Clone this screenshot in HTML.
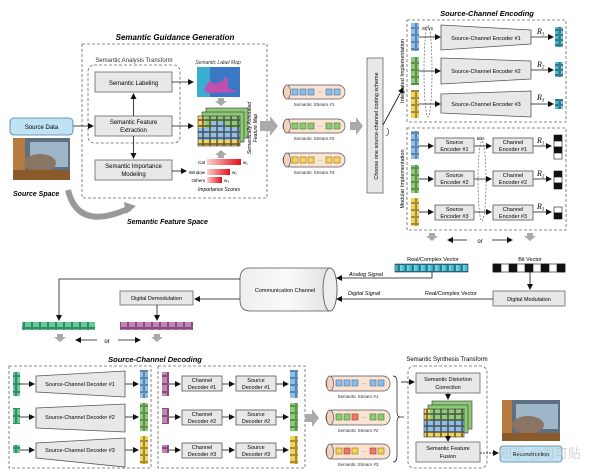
<!DOCTYPE html>
<html><head><meta charset="utf-8"><style>
html,body{margin:0;padding:0;background:#fff;}
svg{display:block;font-family:"Liberation Sans",Arial,sans-serif;}
</style></head><body>
<svg width="600" height="475" viewBox="0 0 600 475" xmlns="http://www.w3.org/2000/svg">
<defs>
<marker id="ar" markerWidth="6" markerHeight="6" refX="5" refY="3" orient="auto" markerUnits="userSpaceOnUse"><path d="M0,0 L6,3 L0,6 z" fill="#111"/></marker>
<linearGradient id="rg" x1="0" x2="1"><stop offset="0" stop-color="#fbd0d0"/><stop offset="1" stop-color="#e2101a"/></linearGradient>
<linearGradient id="cg" x1="0" x2="1"><stop offset="0" stop-color="#eee"/><stop offset="0.5" stop-color="#fafafa"/><stop offset="1" stop-color="#ddd"/></linearGradient>
<linearGradient id="cy" x1="0" x2="1"><stop offset="0" stop-color="#7fe0f0"/><stop offset="1" stop-color="#1aa9c9"/></linearGradient>
<pattern id="pb" width="8" height="7" patternUnits="userSpaceOnUse"><rect x="0.5" y="0.5" width="7" height="6" fill="#8fbfe8" stroke="#3b6ea5" stroke-width="0.8"/></pattern>
<pattern id="pg" width="8" height="7" patternUnits="userSpaceOnUse"><rect x="0.5" y="0.5" width="7" height="6" fill="#8fca78" stroke="#3f7a2e" stroke-width="0.8"/></pattern>
<pattern id="py" width="8" height="7" patternUnits="userSpaceOnUse"><rect x="0.5" y="0.5" width="7" height="6" fill="#f5d35a" stroke="#8a7420" stroke-width="0.8"/></pattern>
<pattern id="pc" width="8" height="5" patternUnits="userSpaceOnUse"><rect x="0.5" y="0.5" width="7" height="4" fill="url(#cy)" stroke="#145" stroke-width="0.7"/></pattern>
<pattern id="pt" width="8" height="8" patternUnits="userSpaceOnUse"><rect x="0.5" y="0.5" width="7" height="7" fill="#5fcf9a" stroke="#1d6b4a" stroke-width="0.8"/></pattern>
<pattern id="pp" width="8" height="8" patternUnits="userSpaceOnUse"><rect x="0.5" y="0.5" width="7" height="7" fill="#c383b5" stroke="#6b2f60" stroke-width="0.8"/></pattern>
<pattern id="pcv" width="7" height="8" patternUnits="userSpaceOnUse"><rect x="0.5" y="0.5" width="6" height="7" fill="url(#cy)" stroke="#145" stroke-width="0.7"/></pattern>
<pattern id="pcube" width="7" height="6" patternUnits="userSpaceOnUse"><rect x="0.4" y="0.4" width="6.2" height="5.2" fill="none" stroke="#333" stroke-width="0.6"/></pattern>
</defs>

<!-- Semantic Guidance Generation -->
<text x="175" y="40" font-size="8" font-weight="bold" font-style="italic" text-anchor="middle">Semantic Guidance Generation</text>
<rect x="82" y="44" width="185" height="154" fill="none" stroke="#666" stroke-dasharray="3,2" stroke-width="0.8"/>
<text x="134" y="62" font-size="6" text-anchor="middle" fill="#333">Semantic Analysis Transform</text>
<rect x="88" y="65" width="92" height="78" rx="6" fill="none" stroke="#666" stroke-dasharray="3,2" stroke-width="0.8"/>
<rect x="95" y="72" width="77" height="20" fill="#e8e8e8" stroke="#666" stroke-width="0.8"/>
<text x="133.5" y="85" font-size="6" text-anchor="middle">Semantic Labeling</text>
<rect x="95" y="116" width="77" height="20" fill="#e8e8e8" stroke="#666" stroke-width="0.8"/>
<text x="133.5" y="124" font-size="6" text-anchor="middle">Semantic Feature</text>
<text x="133.5" y="132" font-size="6" text-anchor="middle">Extraction</text>
<rect x="95" y="160" width="77" height="20" fill="#e8e8e8" stroke="#666" stroke-width="0.8"/>
<text x="133.5" y="168" font-size="6" text-anchor="middle">Semantic Importance</text>
<text x="133.5" y="176" font-size="6" text-anchor="middle">Modeling</text>
<line x1="133.5" y1="116" x2="133.5" y2="94" stroke="#111" stroke-width="0.8" marker-end="url(#ar)"/>
<line x1="133.5" y1="136" x2="133.5" y2="158" stroke="#111" stroke-width="0.8" marker-end="url(#ar)"/>
<line x1="172" y1="82" x2="193" y2="82" stroke="#111" stroke-width="0.8" marker-end="url(#ar)"/>
<line x1="172" y1="126" x2="193" y2="126" stroke="#111" stroke-width="0.8" marker-end="url(#ar)"/>
<line x1="172" y1="171" x2="186" y2="171" stroke="#111" stroke-width="0.8" marker-end="url(#ar)"/>

<rect x="10" y="118" width="63" height="17" rx="4" fill="#bfe3f5" stroke="#4a7fa8" stroke-width="0.8"/>
<text x="41.5" y="129" font-size="6" text-anchor="middle">Source Data</text>
<line x1="73" y1="126" x2="93" y2="126" stroke="#111" stroke-width="0.8" marker-end="url(#ar)"/>
<rect x="13" y="138" width="57" height="42" fill="#5d6f80"/>
<rect x="13" y="138" width="12" height="42" fill="#b77a3f"/>
<rect x="30" y="142" width="38" height="25" fill="#9fb6c8"/>
<ellipse cx="40" cy="163" rx="16" ry="9" fill="#8a7565"/>
<rect x="13" y="170" width="57" height="10" fill="#8b5a2b"/>
<text x="13" y="196" font-size="7" font-weight="bold" font-style="italic">Source Space</text>
<path d="M68,190 Q78,232 130,208" fill="none" stroke="#999" stroke-width="6"/>
<path d="M124,202 L136,206 L126,214 z" fill="#999"/>
<text x="127" y="224" font-size="7" font-weight="bold" font-style="italic">Semantic Feature Space</text>

<!-- label map -->
<text x="218" y="64" font-size="5" font-style="italic" text-anchor="middle" fill="#333">Semantic Label Map</text>
<rect x="197" y="67" width="43" height="30" fill="#3a78c6"/>
<rect x="197" y="67" width="13" height="30" fill="#3aaed0"/>
<path d="M204,90 L210,80 L214,84 L223,81 L225,76 L228,80 L228,88 L238,92 L208,93 z" fill="#c050b0"/>
<path d="M218,98 l6,0 l0,3 l3,0 l-6,5 l-6,-5 l3,0 z" fill="#aaa"/>
<!-- cube -->
<g>
<rect x="206" y="108" width="42" height="30" fill="#8fca78" stroke="#333" stroke-width="0.6"/>
<rect x="202" y="112" width="42" height="30" fill="#8fca78" stroke="#333" stroke-width="0.6"/>
<rect x="198" y="116" width="42" height="30" fill="#8fca78"/>
<rect x="198" y="128" width="42" height="12" fill="#8fbfe8"/>
<rect x="198" y="140" width="42" height="6" fill="#f5d35a"/>
<rect x="198" y="116" width="7" height="12" fill="#f5d35a"/>
<rect x="212" y="122" width="14" height="6" fill="#8fbfe8"/>
<rect x="198" y="116" width="42" height="30" fill="url(#pcube)" stroke="#333" stroke-width="0.6"/>
</g>
<path d="M218,158 l6,0 l0,-3 l3,0 l-6,-5 l-6,5 l3,0 z" fill="#aaa"/>
<text x="205" y="164" font-size="4.5" text-anchor="end">Cat</text>
<rect x="207" y="159" width="34" height="6" fill="url(#rg)"/>
<text x="243" y="164" font-size="4.5">w₁</text>
<text x="205" y="174" font-size="4.5" text-anchor="end">Window</text>
<rect x="207" y="169" width="23" height="6" fill="url(#rg)"/>
<text x="232" y="174" font-size="4.5">w₂</text>
<text x="205" y="182" font-size="4.5" text-anchor="end">Others</text>
<rect x="207" y="177" width="15" height="6" fill="url(#rg)"/>
<text x="224" y="182" font-size="4.5">w₃</text>
<text x="219" y="191" font-size="5" font-style="italic" text-anchor="middle">Importance Scores</text>
<text transform="translate(251,128) rotate(-90)" font-size="5" font-style="italic" text-anchor="middle">Semantically Annotated</text>
<text transform="translate(257,128) rotate(-90)" font-size="5" font-style="italic" text-anchor="middle">Feature Map</text>
<path d="M260,121 l10,0 l0,-5 l8,10 l-8,10 l0,-5 l-10,0 z" fill="#aaa"/>

<!-- streams top -->
<g font-size="4.5" text-anchor="middle" fill="#333">
<g transform="translate(0,0)">
<rect x="283" y="85" width="62" height="14" rx="7" fill="#fbe3d4" stroke="#555" stroke-width="0.7"/><ellipse cx="287" cy="92" rx="3.5" ry="7" fill="#f3d3c0" stroke="#555" stroke-width="0.7"/>
<rect x="292" y="89" width="6" height="6" fill="#8fbfe8" stroke="#3b6ea5" stroke-width="0.6"/><rect x="300" y="89" width="6" height="6" fill="#8fbfe8" stroke="#3b6ea5" stroke-width="0.6"/><rect x="308" y="89" width="6" height="6" fill="#8fbfe8" stroke="#3b6ea5" stroke-width="0.6"/><rect x="326" y="89" width="6" height="6" fill="#8fbfe8" stroke="#3b6ea5" stroke-width="0.6"/><rect x="334" y="89" width="6" height="6" fill="#8fbfe8" stroke="#3b6ea5" stroke-width="0.6"/>
<text x="320" y="94">···</text><text x="314" y="106">Semantic Stream #1</text></g>
<rect x="283" y="119" width="62" height="14" rx="7" fill="#fbe3d4" stroke="#555" stroke-width="0.7"/><ellipse cx="287" cy="126" rx="3.5" ry="7" fill="#f3d3c0" stroke="#555" stroke-width="0.7"/>
<rect x="292" y="123" width="6" height="6" fill="#8fca78" stroke="#3f7a2e" stroke-width="0.6"/><rect x="300" y="123" width="6" height="6" fill="#8fca78" stroke="#3f7a2e" stroke-width="0.6"/><rect x="308" y="123" width="6" height="6" fill="#8fca78" stroke="#3f7a2e" stroke-width="0.6"/><rect x="326" y="123" width="6" height="6" fill="#8fca78" stroke="#3f7a2e" stroke-width="0.6"/><rect x="334" y="123" width="6" height="6" fill="#8fca78" stroke="#3f7a2e" stroke-width="0.6"/>
<text x="320" y="128">···</text><text x="314" y="140">Semantic Stream #2</text>
<rect x="283" y="153" width="62" height="14" rx="7" fill="#fbe3d4" stroke="#555" stroke-width="0.7"/><ellipse cx="287" cy="160" rx="3.5" ry="7" fill="#f3d3c0" stroke="#555" stroke-width="0.7"/>
<rect x="292" y="157" width="6" height="6" fill="#f5d35a" stroke="#8a7420" stroke-width="0.6"/><rect x="300" y="157" width="6" height="6" fill="#f5d35a" stroke="#8a7420" stroke-width="0.6"/><rect x="308" y="157" width="6" height="6" fill="#f5d35a" stroke="#8a7420" stroke-width="0.6"/><rect x="326" y="157" width="6" height="6" fill="#f5d35a" stroke="#8a7420" stroke-width="0.6"/><rect x="334" y="157" width="6" height="6" fill="#f5d35a" stroke="#8a7420" stroke-width="0.6"/>
<text x="320" y="162">···</text><text x="314" y="174">Semantic Stream #3</text>
</g>
<path d="M350,122 l6,0 l0,-5 l7,9 l-7,9 l0,-5 l-6,0 z" fill="#aaa"/>
<rect x="367" y="58" width="16" height="135" fill="#e8e8e8" stroke="#666" stroke-width="0.8"/>
<text transform="translate(378,126) rotate(-90)" font-size="5.5" text-anchor="middle">Choose one source-channel coding scheme</text>
<line x1="383" y1="125" x2="403" y2="88" stroke="#111" stroke-width="0.8" marker-end="url(#ar)"/>
<path d="M387,128 q4,5 -1,8" fill="none" stroke="#111" stroke-width="0.6"/>

<!-- Source-Channel Encoding -->
<text x="487" y="16" font-size="7.5" font-weight="bold" font-style="italic" text-anchor="middle">Source-Channel Encoding</text>
<rect x="407" y="20" width="159" height="102" fill="none" stroke="#666" stroke-dasharray="3,2" stroke-width="0.8"/>
<text transform="translate(404,71) rotate(-90)" font-size="5.5" text-anchor="middle">Integrated Implementation</text>
<rect x="411" y="23" width="8" height="28" fill="url(#pb)"/>
<rect x="411" y="57" width="8" height="28" fill="url(#pg)"/>
<rect x="411" y="90" width="8" height="28" fill="url(#py)"/>
<ellipse cx="428" cy="71" rx="4" ry="46" fill="none" stroke="#666" stroke-dasharray="2,1.5" stroke-width="0.7"/>
<text x="422" y="30" font-size="4.5">SFVs</text>
<line x1="419" y1="37" x2="440" y2="37" stroke="#111" stroke-width="0.8" marker-end="url(#ar)"/>
<line x1="419" y1="71" x2="440" y2="71" stroke="#111" stroke-width="0.8" marker-end="url(#ar)"/>
<line x1="419" y1="104" x2="440" y2="104" stroke="#111" stroke-width="0.8" marker-end="url(#ar)"/>
<path d="M441,25 L531,30 L531,44 L441,50 z" fill="#e8e8e8" stroke="#555" stroke-width="0.8"/>
<path d="M441,58 L531,61 L531,79 L441,84 z" fill="#e8e8e8" stroke="#555" stroke-width="0.8"/>
<path d="M441,94 L531,91 L531,117 L441,113 z" fill="#e8e8e8" stroke="#555" stroke-width="0.8"/>
<g font-size="5.5" text-anchor="middle"><text x="486" y="40">Source-Channel Encoder #1</text><text x="486" y="73">Source-Channel Encoder #2</text><text x="486" y="106">Source-Channel Encoder #3</text></g>
<line x1="531" y1="37" x2="553" y2="37" stroke="#111" stroke-width="0.8" marker-end="url(#ar)"/>
<line x1="531" y1="70" x2="553" y2="70" stroke="#111" stroke-width="0.8" marker-end="url(#ar)"/>
<line x1="531" y1="104" x2="553" y2="104" stroke="#111" stroke-width="0.8" marker-end="url(#ar)"/>
<g font-family="Liberation Serif,serif" font-style="italic" font-size="8"><text x="537" y="34">R<tspan font-size="5" dy="1.5">1</tspan></text><text x="537" y="67">R<tspan font-size="5" dy="1.5">2</tspan></text><text x="537" y="100">R<tspan font-size="5" dy="1.5">3</tspan></text></g>
<rect x="555" y="27" width="8" height="20" fill="url(#pc)"/>
<rect x="555" y="62" width="8" height="15" fill="url(#pc)"/>
<rect x="555" y="99" width="8" height="10" fill="url(#pc)"/>

<rect x="407" y="128" width="159" height="102" fill="none" stroke="#666" stroke-dasharray="3,2" stroke-width="0.8"/>
<text transform="translate(404,179) rotate(-90)" font-size="5.5" text-anchor="middle">Modular Implementation</text>
<rect x="411" y="131" width="8" height="28" fill="url(#pb)"/>
<rect x="411" y="165" width="8" height="28" fill="url(#pg)"/>
<rect x="411" y="198" width="8" height="28" fill="url(#py)"/>
<ellipse cx="482" cy="181" rx="4" ry="40" fill="none" stroke="#666" stroke-dasharray="2,1.5" stroke-width="0.7"/>
<text x="477" y="140" font-size="4.5">Bits</text>
<g stroke="#111" stroke-width="0.8">
<line x1="419" y1="146" x2="433" y2="146" marker-end="url(#ar)"/><line x1="474" y1="146" x2="491" y2="146" marker-end="url(#ar)"/><line x1="533" y1="146" x2="551" y2="146" marker-end="url(#ar)"/>
<line x1="419" y1="179" x2="433" y2="179" marker-end="url(#ar)"/><line x1="474" y1="179" x2="491" y2="179" marker-end="url(#ar)"/><line x1="533" y1="179" x2="551" y2="179" marker-end="url(#ar)"/>
<line x1="419" y1="212" x2="433" y2="212" marker-end="url(#ar)"/><line x1="474" y1="212" x2="491" y2="212" marker-end="url(#ar)"/><line x1="533" y1="212" x2="551" y2="212" marker-end="url(#ar)"/>
</g>
<g fill="#e8e8e8" stroke="#555" stroke-width="0.8">
<rect x="435" y="138" width="39" height="15"/><rect x="493" y="138" width="40" height="15"/>
<rect x="435" y="171" width="39" height="15"/><rect x="493" y="171" width="40" height="15"/>
<rect x="435" y="205" width="39" height="15"/><rect x="493" y="205" width="40" height="15"/>
</g>
<g font-size="5.5" text-anchor="middle">
<text x="454.5" y="144">Source</text><text x="454.5" y="151">Encoder #1</text><text x="513" y="144">Channel</text><text x="513" y="151">Encoder #1</text>
<text x="454.5" y="177">Source</text><text x="454.5" y="184">Encoder #2</text><text x="513" y="177">Channel</text><text x="513" y="184">Encoder #2</text>
<text x="454.5" y="211">Source</text><text x="454.5" y="218">Encoder #3</text><text x="513" y="211">Channel</text><text x="513" y="218">Encoder #3</text>
</g>
<g font-family="Liberation Serif,serif" font-style="italic" font-size="8"><text x="537" y="143">R<tspan font-size="5" dy="1.5">1</tspan></text><text x="537" y="176">R<tspan font-size="5" dy="1.5">2</tspan></text><text x="537" y="209">R<tspan font-size="5" dy="1.5">3</tspan></text></g>
<g stroke="#111" stroke-width="0.6">
<rect x="554" y="135" width="8" height="6" fill="#111"/><rect x="554" y="141" width="8" height="6" fill="#fff"/><rect x="554" y="147" width="8" height="6" fill="#111"/><rect x="554" y="153" width="8" height="6" fill="#fff"/>
<rect x="554" y="171" width="8" height="6" fill="#111"/><rect x="554" y="177" width="8" height="6" fill="#fff"/><rect x="554" y="183" width="8" height="6" fill="#111"/>
<rect x="554" y="207" width="8" height="6" fill="#fff"/><rect x="554" y="213" width="8" height="6" fill="#111"/>
</g>

<!-- middle -->
<path d="M429,233 l6,0 l0,3 l3,0 l-6,5 l-6,-5 l3,0 z" fill="#aaa"/>
<path d="M527,233 l6,0 l0,3 l3,0 l-6,5 l-6,-5 l3,0 z" fill="#aaa"/>
<line x1="467" y1="240" x2="448" y2="240" stroke="#111" stroke-width="0.8" marker-end="url(#ar)"/>
<line x1="492" y1="240" x2="512" y2="240" stroke="#111" stroke-width="0.8" marker-end="url(#ar)"/>
<text x="480" y="243" font-size="6" text-anchor="middle">or</text>
<text x="433" y="261" font-size="5.5" text-anchor="middle">Real/Complex Vector</text>
<rect x="395" y="264" width="73" height="8" fill="url(#pcv)" stroke="#145" stroke-width="0.6"/>
<text x="530" y="261" font-size="5.5" text-anchor="middle">Bit Vector</text>
<g stroke="#111" stroke-width="0.6"><rect x="493" y="264" width="72" height="8" fill="#fff"/>
<rect x="493" y="264" width="8" height="8" fill="#111"/><rect x="509" y="264" width="8" height="8" fill="#111"/><rect x="525" y="264" width="8" height="8" fill="#111"/><rect x="541" y="264" width="8" height="8" fill="#111"/><rect x="557" y="264" width="8" height="8" fill="#111"/></g>
<line x1="530" y1="272" x2="530" y2="289" stroke="#111" stroke-width="0.8" marker-end="url(#ar)"/>
<rect x="493" y="291" width="72" height="15" fill="#e8e8e8" stroke="#666" stroke-width="0.8"/>
<text x="529" y="301" font-size="5.5" text-anchor="middle">Digital Modulation</text>
<polyline points="432,272 432,278 337,278" fill="none" stroke="#111" stroke-width="0.8" marker-end="url(#ar)"/>
<line x1="493" y1="299" x2="337" y2="299" stroke="#111" stroke-width="0.8" marker-end="url(#ar)"/>
<text x="349" y="276" font-size="5.5" font-style="italic">Analog Signal</text>
<text x="348" y="295" font-size="5.5" font-style="italic">Digital Signal</text>
<text x="425" y="295" font-size="5.5">Real/Complex Vector</text>
<path d="M250,268 L330,268 A7,21.5 0 0 1 330,311 L250,311 Q240,311 240,300 L240,279 Q240,268 250,268 z" fill="url(#cg)" stroke="#555" stroke-width="0.8"/>
<ellipse cx="330" cy="289.5" rx="7" ry="21.5" fill="#eee" stroke="#555" stroke-width="0.8"/>
<text x="285" y="292" font-size="5.5" text-anchor="middle">Communication Channel</text>
<polyline points="240,279 59,279 59,320" fill="none" stroke="#111" stroke-width="0.8" marker-end="url(#ar)"/>
<line x1="240" y1="299" x2="195" y2="299" stroke="#111" stroke-width="0.8" marker-end="url(#ar)"/>
<rect x="120" y="291" width="73" height="14" fill="#e8e8e8" stroke="#666" stroke-width="0.8"/>
<text x="156.5" y="300" font-size="5.5" text-anchor="middle">Digital Demodulation</text>
<line x1="157" y1="305" x2="157" y2="320" stroke="#111" stroke-width="0.8" marker-end="url(#ar)"/>
<rect x="22" y="322" width="73" height="8" fill="url(#pt)"/>
<rect x="120" y="322" width="73" height="8" fill="url(#pp)"/>
<path d="M57,334 l6,0 l0,3 l3,0 l-6,5 l-6,-5 l3,0 z" fill="#aaa"/>
<path d="M154,334 l6,0 l0,3 l3,0 l-6,5 l-6,-5 l3,0 z" fill="#aaa"/>
<line x1="97" y1="340" x2="76" y2="340" stroke="#111" stroke-width="0.8" marker-end="url(#ar)"/>
<line x1="118" y1="340" x2="140" y2="340" stroke="#111" stroke-width="0.8" marker-end="url(#ar)"/>
<text x="107" y="343" font-size="6" text-anchor="middle">or</text>

<!-- Decoding -->
<text x="155" y="362" font-size="7.5" font-weight="bold" font-style="italic" text-anchor="middle">Source-Channel Decoding</text>
<rect x="9" y="366" width="142" height="102" fill="none" stroke="#666" stroke-dasharray="3,2" stroke-width="0.8"/>
<rect x="158" y="366" width="147" height="102" fill="none" stroke="#666" stroke-dasharray="3,2" stroke-width="0.8"/>
<rect x="13" y="372" width="7" height="24" fill="url(#pt)"/>
<rect x="13" y="408" width="7" height="16" fill="url(#pt)"/>
<rect x="13" y="445" width="7" height="8" fill="url(#pt)"/>
<g stroke="#111" stroke-width="0.8">
<line x1="20" y1="384" x2="34" y2="384" marker-end="url(#ar)"/><line x1="125" y1="384" x2="138" y2="384" marker-end="url(#ar)"/>
<line x1="20" y1="417" x2="34" y2="417" marker-end="url(#ar)"/><line x1="125" y1="417" x2="138" y2="417" marker-end="url(#ar)"/>
<line x1="20" y1="450" x2="34" y2="450" marker-end="url(#ar)"/><line x1="125" y1="450" x2="138" y2="450" marker-end="url(#ar)"/>
</g>
<path d="M36,376 L125,371 L125,397 L36,392 z" fill="#e8e8e8" stroke="#555" stroke-width="0.8"/>
<path d="M36,408 L125,404 L125,432 L36,428 z" fill="#e8e8e8" stroke="#555" stroke-width="0.8"/>
<path d="M36,443 L125,438 L125,467 L36,458 z" fill="#e8e8e8" stroke="#555" stroke-width="0.8"/>
<g font-size="5.5" text-anchor="middle"><text x="80" y="386">Source-Channel Decoder #1</text><text x="80" y="419">Source-Channel Decoder #2</text><text x="80" y="452">Source-Channel Decoder #3</text></g>
<rect x="140" y="370" width="8" height="28" fill="url(#pb)"/>
<rect x="140" y="403" width="8" height="28" fill="url(#pg)"/>
<rect x="140" y="436" width="8" height="28" fill="url(#py)"/>
<rect x="162" y="372" width="7" height="24" fill="url(#pp)"/>
<rect x="162" y="408" width="7" height="16" fill="url(#pp)"/>
<rect x="162" y="445" width="7" height="8" fill="url(#pp)"/>
<g stroke="#111" stroke-width="0.8">
<line x1="169" y1="384" x2="180" y2="384" marker-end="url(#ar)"/><line x1="222" y1="384" x2="234" y2="384" marker-end="url(#ar)"/><line x1="276" y1="384" x2="288" y2="384" marker-end="url(#ar)"/>
<line x1="169" y1="417" x2="180" y2="417" marker-end="url(#ar)"/><line x1="222" y1="417" x2="234" y2="417" marker-end="url(#ar)"/><line x1="276" y1="417" x2="288" y2="417" marker-end="url(#ar)"/>
<line x1="169" y1="450" x2="180" y2="450" marker-end="url(#ar)"/><line x1="222" y1="450" x2="234" y2="450" marker-end="url(#ar)"/><line x1="276" y1="450" x2="288" y2="450" marker-end="url(#ar)"/>
</g>
<g fill="#e8e8e8" stroke="#555" stroke-width="0.8">
<rect x="182" y="376" width="40" height="15"/><rect x="236" y="376" width="40" height="15"/>
<rect x="182" y="410" width="40" height="15"/><rect x="236" y="410" width="40" height="15"/>
<rect x="182" y="443" width="40" height="15"/><rect x="236" y="443" width="40" height="15"/>
</g>
<g font-size="5.5" text-anchor="middle">
<text x="202" y="382">Channel</text><text x="202" y="389">Decoder #1</text><text x="256" y="382">Source</text><text x="256" y="389">Decoder #1</text>
<text x="202" y="416">Channel</text><text x="202" y="423">Decoder #2</text><text x="256" y="416">Source</text><text x="256" y="423">Decoder #2</text>
<text x="202" y="449">Channel</text><text x="202" y="456">Decoder #3</text><text x="256" y="449">Source</text><text x="256" y="456">Decoder #3</text>
</g>
<rect x="290" y="370" width="8" height="28" fill="url(#pb)"/>
<rect x="290" y="403" width="8" height="28" fill="url(#pg)"/>
<rect x="290" y="436" width="8" height="28" fill="url(#py)"/>
<path d="M305,414 l7,0 l0,-5 l7,9 l-7,9 l0,-5 l-7,0 z" fill="#aaa"/>

<!-- bottom streams -->
<g font-size="4.5" text-anchor="middle" fill="#333">
<rect x="326" y="376" width="64" height="15" rx="7" fill="#fbe3d4" stroke="#555" stroke-width="0.7"/><ellipse cx="330" cy="383.5" rx="3.5" ry="7.5" fill="#f3d3c0" stroke="#555" stroke-width="0.7"/>
<rect x="336" y="380" width="6" height="6" fill="#8fbfe8" stroke="#3b6ea5" stroke-width="0.6"/><rect x="344" y="380" width="6" height="6" fill="#8fbfe8" stroke="#3b6ea5" stroke-width="0.6"/><rect x="352" y="380" width="6" height="6" fill="#8fbfe8" stroke="#3b6ea5" stroke-width="0.6"/><rect x="370" y="380" width="6" height="6" fill="#8fbfe8" stroke="#3b6ea5" stroke-width="0.6"/><rect x="378" y="380" width="6" height="6" fill="#8fbfe8" stroke="#3b6ea5" stroke-width="0.6"/>
<text x="364" y="385">···</text><text x="358" y="398">Semantic Stream #1</text>
<rect x="326" y="410" width="64" height="15" rx="7" fill="#fbe3d4" stroke="#555" stroke-width="0.7"/><ellipse cx="330" cy="417.5" rx="3.5" ry="7.5" fill="#f3d3c0" stroke="#555" stroke-width="0.7"/>
<rect x="336" y="414" width="6" height="6" fill="#8fca78" stroke="#3f7a2e" stroke-width="0.6"/><rect x="344" y="414" width="6" height="6" fill="#8fca78" stroke="#3f7a2e" stroke-width="0.6"/><rect x="352" y="414" width="6" height="6" fill="#e87a6a" stroke="#a33" stroke-width="0.6"/><rect x="370" y="414" width="6" height="6" fill="#8fca78" stroke="#3f7a2e" stroke-width="0.6"/><rect x="378" y="414" width="6" height="6" fill="#8fca78" stroke="#3f7a2e" stroke-width="0.6"/>
<text x="364" y="419">···</text><text x="358" y="432">Semantic Stream #2</text>
<rect x="326" y="444" width="64" height="15" rx="7" fill="#fbe3d4" stroke="#555" stroke-width="0.7"/><ellipse cx="330" cy="451.5" rx="3.5" ry="7.5" fill="#f3d3c0" stroke="#555" stroke-width="0.7"/>
<rect x="336" y="448" width="6" height="6" fill="#f5d35a" stroke="#8a7420" stroke-width="0.6"/><rect x="344" y="448" width="6" height="6" fill="#e87a6a" stroke="#a33" stroke-width="0.6"/><rect x="352" y="448" width="6" height="6" fill="#f5d35a" stroke="#8a7420" stroke-width="0.6"/><rect x="370" y="448" width="6" height="6" fill="#e87a6a" stroke="#a33" stroke-width="0.6"/><rect x="378" y="448" width="6" height="6" fill="#f5d35a" stroke="#8a7420" stroke-width="0.6"/>
<text x="364" y="453">···</text><text x="358" y="466">Semantic Stream #3</text>
</g>
<path d="M393,376 q4,0 4,6 l0,30 q0,5 3,5 q-3,0 -3,5 l0,34 q0,6 -4,6" fill="none" stroke="#111" stroke-width="0.7"/>
<line x1="400" y1="417" x2="404" y2="417" stroke="#111" stroke-width="0.7"/>
<polyline points="401,382 414,382" fill="none" stroke="#111" stroke-width="0.8" marker-end="url(#ar)"/>
<text x="447" y="361" font-size="6" text-anchor="middle">Semantic Synthesis Transform</text>
<rect x="408" y="366" width="79" height="102" rx="6" fill="none" stroke="#666" stroke-dasharray="3,2" stroke-width="0.8"/>
<rect x="416" y="373" width="64" height="20" fill="#e8e8e8" stroke="#666" stroke-width="0.8"/>
<text x="448" y="381" font-size="5.5" text-anchor="middle">Semantic Distortion</text>
<text x="448" y="389" font-size="5.5" text-anchor="middle">Correction</text>
<line x1="448" y1="393" x2="448" y2="399" stroke="#111" stroke-width="0.8" marker-end="url(#ar)"/>
<rect x="432" y="401" width="40" height="28" fill="#8fca78" stroke="#333" stroke-width="0.6"/>
<rect x="428" y="405" width="40" height="28" fill="#8fca78" stroke="#333" stroke-width="0.6"/>
<rect x="424" y="409" width="40" height="28" fill="#8fca78"/>
<rect x="424" y="421" width="40" height="11" fill="#8fbfe8"/>
<rect x="424" y="432" width="40" height="5" fill="#f5d35a"/>
<rect x="424" y="409" width="6" height="12" fill="#f5d35a"/>
<rect x="424" y="409" width="40" height="28" fill="url(#pcube)" stroke="#333" stroke-width="0.6"/>
<line x1="448" y1="437" x2="448" y2="441" stroke="#111" stroke-width="0.8" marker-end="url(#ar)"/>
<rect x="416" y="442" width="64" height="20" fill="#e8e8e8" stroke="#666" stroke-width="0.8"/>
<text x="448" y="450" font-size="5.5" text-anchor="middle">Semantic Feature</text>
<text x="448" y="458" font-size="5.5" text-anchor="middle">Fusion</text>
<line x1="480" y1="453" x2="498" y2="453" stroke="#111" stroke-width="0.8" stroke-dasharray="2,1" marker-end="url(#ar)"/>
<rect x="502" y="400" width="58" height="41" fill="#5d6f80"/>
<rect x="502" y="400" width="10" height="41" fill="#b77a3f"/>
<rect x="516" y="404" width="42" height="25" fill="#9fb6c8"/>
<ellipse cx="528" cy="425" rx="16" ry="9" fill="#8a7565"/>
<rect x="502" y="433" width="58" height="8" fill="#8b5a2b"/>
<rect x="500" y="446" width="62" height="16" rx="3" fill="#bfe3f5" stroke="#4a7fa8" stroke-width="0.8"/>
<text x="531" y="456" font-size="5.5" text-anchor="middle">Reconstruction</text>
<text x="540" y="458" font-size="13" fill="#bbb" fill-opacity="0.6" text-anchor="middle" font-family="Liberation Sans,Noto Sans CJK SC,sans-serif">知乎 @司可贴</text>
</svg>
</body></html>
